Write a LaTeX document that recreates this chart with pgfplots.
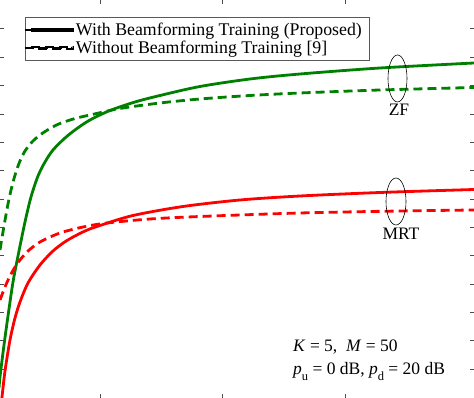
\documentclass[border=0pt]{standalone}
\usepackage{pgfplots}
\pgfplotsset{compat=1.18}
\usepackage{fontspec}
\setmainfont{Liberation Serif}
\definecolor{zfgreen}{rgb}{0,0.5,0}
\newcommand{\sub}[1]{\raisebox{-0.32em}{\fontsize{12.5}{12.5}\selectfont #1}}
\begin{document}
\begin{tikzpicture}
\begin{axis}[
  name=main,
  width=474pt, height=398pt, scale only axis,
  xmin=0, xmax=474, ymin=0, ymax=398,
  axis line style={draw=none},
  tick align=inside,
  major tick length=4pt,
  tick style={black!70, line width=0.6pt},
  xtick={100,222.5,345},
  ytick={29,57.35,85.7,114.05,142.4,170.75,199.1,227.45,255.8,284.15,312.5,340.85,369.2},
  xticklabels={}, yticklabels={},
  clip=true,
  legend style={at={(axis description cs:0.0527,0.957)}, anchor=north west, draw=black!65, line width=0.8pt,
    fill=white, inner xsep=6pt, inner ysep=3.5pt, row sep=0pt,
    font=\fontsize{17.8}{20}\selectfont, cells={anchor=west}},
  legend image code/.code={\useasboundingbox (0pt,-1pt) rectangle (40pt,1pt); \draw[#1] (-8pt,0pt) -- (35pt,0pt);},
]
\addlegendimage{black, line width=2.6pt}
\addlegendentry{With Beamforming Training (Proposed)}
\addlegendimage{black, line width=2.6pt, dash pattern=on 9pt off 5pt}
\addlegendentry{Without Beamforming Training [9]}

% ZF, with training
\addplot[zfgreen, line width=2.8pt, smooth, tension=0.5, forget plot] coordinates {
(-1,10) (0,21) (4,53) (8,82) (13,116) (18,142) (25,176) (31,201) (38,222) (45,236)
(53,248) (65,260) (77,269.5) (90,278) (110,287.5) (135,296) (160,302.5)
(200,311.5) (250,319) (300,324) (380,330) (474,335)};
% ZF, without training
\addplot[zfgreen, line width=2.8pt, dash pattern=on 9pt off 5pt, smooth, tension=0.5, forget plot] coordinates {
(0,148) (4,172) (8,194) (12,212) (16,226) (20,237) (25,247) (32,256) (40,263)
(50,269.5) (60,274.5) (75,279.5) (90,283) (120,289.5) (160,295) (200,299)
(250,302.5) (300,305) (380,308) (474,310.5)};
% MRT, with training
\addplot[red, line width=2.8pt, smooth, tension=0.5, forget plot] coordinates {
(1,-7) (2,1) (5,27) (10,58) (15,80) (20,96) (28,115) (40,133) (53,147) (67,157.5)
(85,167) (100,172.5) (133,182.5) (183,191.5) (240,198) (300,202) (380,205.5) (474,208.5)};
% MRT, without training
\addplot[red, line width=2.8pt, dash pattern=on 9pt off 5pt, smooth, tension=0.5, forget plot] coordinates {
(0,98) (5,111) (10,122) (17,134) (27,146) (40,156) (60,165) (83,171)
(107,175) (150,179) (200,181.5) (300,185) (400,187) (474,188)};

\draw[black, line width=0.6pt] (axis cs:397.5,319.5) ellipse [x radius=9.5pt, y radius=23.5pt];
\draw[black, line width=0.6pt] (axis cs:396,196.5) ellipse [x radius=10pt, y radius=23.5pt];
\node[font=\fontsize{17.5}{20}\selectfont, anchor=center] at (axis cs:399,288) {ZF};
\node[font=\fontsize{17.5}{20}\selectfont, anchor=center] at (axis cs:401,164) {MRT};
\node[font=\fontsize{17.5}{20}\selectfont, anchor=base west, inner sep=0pt] at (axis cs:293,46) {\textit{K} = 5,\ \ \textit{M} = 50};
\node[font=\fontsize{17.5}{20}\selectfont, anchor=base west, inner sep=0pt] at (axis cs:293,23) {\textit{p}\sub{u} = 0 dB, \textit{p}\sub{d} = 20 dB};
\end{axis}
\pgfresetboundingbox
\path (main.south west) rectangle (main.north east);
\end{tikzpicture}
\end{document}
